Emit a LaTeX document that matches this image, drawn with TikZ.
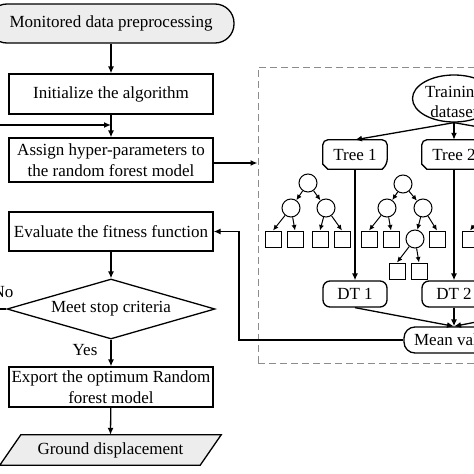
\documentclass[tikz,border=0pt]{standalone}
\usepackage{fontspec}
\setmainfont{Liberation Serif}
\usetikzlibrary{shapes.geometric,arrows.meta,calc,backgrounds}
\begin{document}
\begin{tikzpicture}[x=1pt,y=-1pt,
  every node/.style={font=\fontsize{17}{21}\selectfont},
  ln/.style={line width=1.3pt},
  arr/.style={ln,-{Latex[length=7pt,width=6pt]}},
  sarr/.style={line width=1pt,-{Latex[length=5.5pt,width=5pt]}},
  proc/.style={draw,ln,rectangle,minimum width=204pt,minimum height=40pt,inner sep=0pt,align=center},
  term/.style={draw,ln,fill=black!7,rounded corners=19pt,minimum width=246pt,minimum height=39pt,inner sep=0pt},
  dia/.style={draw,ln,diamond,aspect=3.47,minimum width=208pt,minimum height=60pt,inner sep=1pt},
  treebox/.style={rectangle,minimum width=64pt,minimum height=29pt,inner sep=0pt},
  dtbox/.style={draw,ln,rectangle,rounded corners=7pt,minimum width=64pt,minimum height=26pt,inner sep=0pt},
  cir/.style={draw,line width=1pt,circle,minimum size=18pt,inner sep=0pt},
  sq/.style={draw,line width=1pt,rectangle,minimum size=16pt,inner sep=0pt},
  dashbox/.style={draw=black!45,line width=1pt,dash pattern=on 7pt off 4pt,rectangle,inner sep=0pt}
]
\useasboundingbox (0,0) rectangle (474,474);
\clip (0,0) rectangle (474,474);

% left flow
\node[term] (term) at (111,23.5) {Monitored data preprocessing};
\node[proc] (init) at (111,94) {Initialize the algorithm};
\node[proc,minimum height=44pt] (assign) at (111,160) {Assign hyper-parameters to\\the random forest model};
\node[proc,minimum height=39pt] (eval) at (111,231.5) {Evaluate the fitness function};
\node[dia] (dia) at (111,309) {Meet stop criteria};
\node[proc] (export) at (111,387) {Export the optimum Random\\forest model};
\node[inner sep=0pt,minimum width=200pt,minimum height=30pt] (ground) at (110.5,450) {Ground displacement};
\begin{scope}[on background layer]
\draw[ln,fill=black!7] ([xshift=10.5pt]ground.north west) -- ([xshift=10.5pt]ground.north east)
  -- ([xshift=-10.5pt]ground.south east) -- ([xshift=-10.5pt]ground.south west) -- cycle;
\end{scope}

\coordinate (m) at (111,125);
\coordinate (nocorner) at (-12,309);
\node[inner sep=0pt] (no) at (3,292) {No};
\node[inner sep=0pt] (yes) at (85,350) {Yes};

\draw[arr] (term) -- (init);
\draw[arr] (init) -- (assign);
\draw[arr] (dia.west) -- (nocorner) |- (m);
\draw[arr] (eval) -- (dia);
\draw[arr] (dia) -- (export);
\draw[arr] (export) -- (ground.north);

% right panel
\node[dashbox,minimum width=362pt,minimum height=296pt] (rf) at (439,215) {};
\draw[arr] ([yshift=-3pt]assign.east) -- ([yshift=-3pt]assign.east -| rf.west);

\node[draw,ln,ellipse,minimum width=83pt,minimum height=47pt,inner sep=0pt] (train) at (454,98.5) {};
\node[align=center,inner sep=0pt,font=\fontsize{17}{20}\selectfont] (traintxt) at (454,102) {Training\\dataset};

\node[treebox] (t1) at (355,154.5) {Tree 1};
\node[treebox] (t2) at (454,154.5) {Tree 2};
\foreach \t in {t1,t2}{
  \draw[ln,rounded corners=5pt] ([yshift=5pt]\t.south west) -- (\t.north west) -- (\t.north east)
    -- ([yshift=5pt]\t.south east) [sharp corners] -- ([xshift=-5pt]\t.south east)
    -- ([xshift=5pt]\t.south west) -- cycle;
}
\node[dtbox] (d1) at (355,294) {DT 1};
\node[dtbox] (d2) at (454,294) {DT 2};
\node[dtbox,minimum width=100pt,rounded corners=11pt] (mean) at (454,340) {Mean value};

\coordinate (t3) at (553,140);
\coordinate (d3) at (553,307);
\coordinate (fb) at (239,300);

\draw[arr] (train.south) -- (t1.north);
\draw[arr] (train.south) -- (t2.north);
\draw[ln] (train.south) -- (t3);
\draw[arr] (t1.south) -- (d1.north);
\draw[arr] (t2.south) -- (d2.north);
\draw[arr] (d1.south) -- (mean.north);
\draw[arr] (d2.south) -- (mean.north);
\draw[arr] (d3) -- (mean.north);
\draw[arr] (mean.west) -| (fb) |- (eval.east);

% subtree 1
\node[cir] (a0) at (308,183) {};
\node[cir] (a1) at (291,208) {};
\node[cir] (a2) at (326,208) {};
\node[sq] (a3) at (273,239) {};
\node[sq] (a4) at (295,239) {};
\node[sq] (a5) at (320,239) {};
\node[sq] (a6) at (342,239) {};
\draw[sarr] (a0) -- (a1);
\draw[sarr] (a0) -- (a2);
\draw[sarr] (a1) -- (a3.north);
\draw[sarr] (a1) -- (a4.north);
\draw[sarr] (a2) -- (a5.north);
\draw[sarr] (a2) -- (a6.north);

% subtree 2
\node[cir] (b0) at (403,184) {};
\node[cir] (b1) at (387,208) {};
\node[cir] (b2) at (423,208) {};
\node[sq] (b3) at (369,239) {};
\node[sq] (b4) at (391,239) {};
\node[cir] (b5) at (415,239) {};
\node[sq] (b6) at (437,239) {};
\node[sq] (b7) at (397,271) {};
\node[sq] (b8) at (419,271) {};
\draw[sarr] (b0) -- (b1);
\draw[sarr] (b0) -- (b2);
\draw[sarr] (b1) -- (b3.north);
\draw[sarr] (b1) -- (b4.north);
\draw[sarr] (b2) -- (b5);
\draw[sarr] (b2) -- (b6.north);
\draw[sarr] (b5) -- (b7.north);
\draw[sarr] (b5) -- (b8.north);

% subtree 3 (cut off)
\node[sq] (c3) at (470,239) {};
\coordinate (c1) at (482.5,215);
\draw[sarr] (c1) -- (c3.north);
\end{tikzpicture}
\end{document}
